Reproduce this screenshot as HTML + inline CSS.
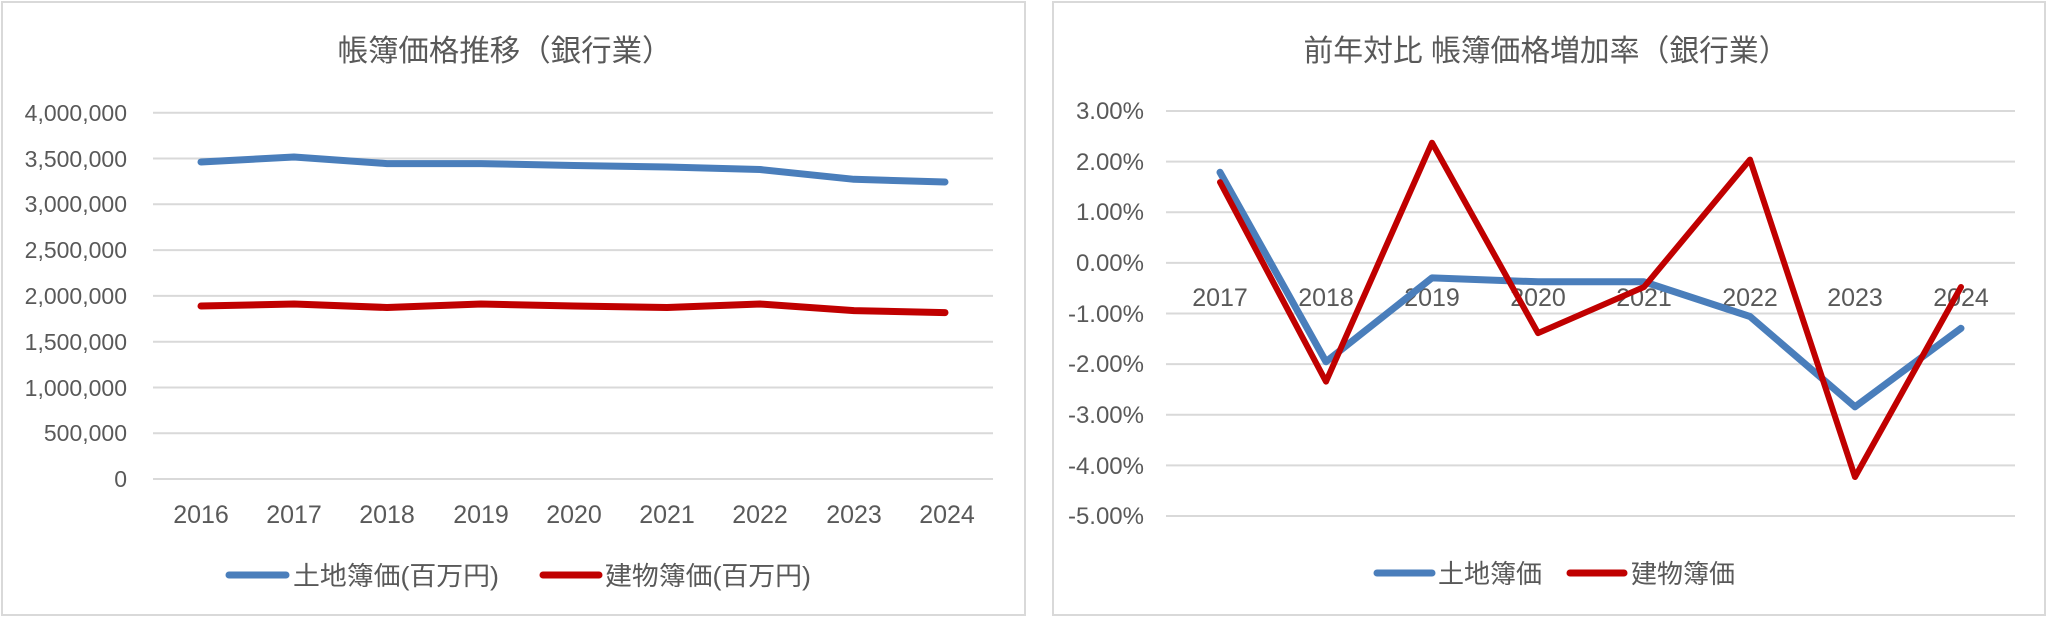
<!DOCTYPE html>
<html><head><meta charset="utf-8"><style>
html,body{margin:0;padding:0;background:#fff;width:2048px;height:618px;overflow:hidden}
svg{display:block}
text{font-family:"Liberation Sans","Noto Sans CJK JP",sans-serif;fill:#595959}
</style></head><body>
<svg width="2048" height="618" viewBox="0 0 2048 618" xmlns="http://www.w3.org/2000/svg">
<rect x="0" y="0" width="2048" height="618" fill="#fff"/>
<rect x="2" y="2" width="1023" height="613" fill="#fff" stroke="#d9d9d9" stroke-width="2"/>
<rect x="1053" y="2" width="992" height="613" fill="#fff" stroke="#d9d9d9" stroke-width="2"/>

<!-- Left chart -->
<text x="505" y="61" font-size="30" text-anchor="middle" textLength="335" lengthAdjust="spacingAndGlyphs">帳簿価格推移（銀行業）</text>
<g stroke="#d9d9d9" stroke-width="2">
<line x1="153" x2="993" y1="112.7" y2="112.7"/><line x1="153" x2="993" y1="158.5" y2="158.5"/>
<line x1="153" x2="993" y1="204.3" y2="204.3"/><line x1="153" x2="993" y1="250.1" y2="250.1"/>
<line x1="153" x2="993" y1="295.9" y2="295.9"/><line x1="153" x2="993" y1="341.7" y2="341.7"/>
<line x1="153" x2="993" y1="387.5" y2="387.5"/><line x1="153" x2="993" y1="433.3" y2="433.3"/>
<line x1="153" x2="993" y1="479" y2="479"/>
</g>
<g font-size="23" text-anchor="end">
<text x="127" y="121">4,000,000</text><text x="127" y="167">3,500,000</text>
<text x="127" y="212">3,000,000</text><text x="127" y="258">2,500,000</text>
<text x="127" y="304">2,000,000</text><text x="127" y="350">1,500,000</text>
<text x="127" y="396">1,000,000</text><text x="127" y="441">500,000</text>
<text x="127" y="487">0</text>
</g>
<g font-size="25" text-anchor="middle">
<text x="201" y="523">2016</text><text x="294" y="523">2017</text><text x="387" y="523">2018</text>
<text x="481" y="523">2019</text><text x="574" y="523">2020</text><text x="667" y="523">2021</text>
<text x="760" y="523">2022</text><text x="854" y="523">2023</text><text x="947" y="523">2024</text>
</g>
<polyline fill="none" stroke="#4a7ebb" stroke-width="7" stroke-linecap="round" stroke-linejoin="round"
points="201,162 294,157 387,163.6 481,163.6 574,165.5 667,167 760,169.5 854,179.3 945,182"/>
<polyline fill="none" stroke="#c00000" stroke-width="7" stroke-linecap="round" stroke-linejoin="round"
points="201,306 294,304 387,307.5 481,304 574,306 667,307.5 760,304 854,310.6 945,312.6"/>
<line x1="229" x2="286" y1="575" y2="575" stroke="#4a7ebb" stroke-width="7" stroke-linecap="round"/>
<text x="293" y="585" font-size="26" textLength="206" lengthAdjust="spacingAndGlyphs">土地簿価(百万円)</text>
<line x1="543" x2="599" y1="575" y2="575" stroke="#c00000" stroke-width="7" stroke-linecap="round"/>
<text x="605" y="585" font-size="26" textLength="206" lengthAdjust="spacingAndGlyphs">建物簿価(百万円)</text>

<!-- Right chart -->
<text x="1546" y="61" font-size="30" text-anchor="middle" textLength="485" lengthAdjust="spacingAndGlyphs">前年対比 帳簿価格増加率（銀行業）</text>
<g stroke="#d9d9d9" stroke-width="2">
<line x1="1166" x2="2015" y1="111" y2="111"/><line x1="1166" x2="2015" y1="161.6" y2="161.6"/>
<line x1="1166" x2="2015" y1="212.2" y2="212.2"/><line x1="1166" x2="2015" y1="262.9" y2="262.9"/>
<line x1="1166" x2="2015" y1="313.5" y2="313.5"/><line x1="1166" x2="2015" y1="364.1" y2="364.1"/>
<line x1="1166" x2="2015" y1="414.7" y2="414.7"/><line x1="1166" x2="2015" y1="465.4" y2="465.4"/>
<line x1="1166" x2="2015" y1="516" y2="516"/>
</g>
<g font-size="24" text-anchor="end">
<text x="1144" y="119">3.00%</text><text x="1144" y="170">2.00%</text>
<text x="1144" y="220">1.00%</text><text x="1144" y="271">0.00%</text>
<text x="1144" y="322">-1.00%</text><text x="1144" y="372">-2.00%</text>
<text x="1144" y="423">-3.00%</text><text x="1144" y="474">-4.00%</text>
<text x="1144" y="524">-5.00%</text>
</g>
<g font-size="25" text-anchor="middle">
<text x="1220" y="306">2017</text><text x="1326" y="306">2018</text><text x="1432" y="306">2019</text>
<text x="1538" y="306">2020</text><text x="1644" y="306">2021</text><text x="1750" y="306">2022</text>
<text x="1855" y="306">2023</text><text x="1961" y="306">2024</text>
</g>
<polyline fill="none" stroke="#4a7ebb" stroke-width="7" stroke-linecap="round" stroke-linejoin="round"
points="1220,172.3 1326,361.8 1432,277.9 1538,281.8 1644,281.8 1750,316.5 1855,406.8 1961,328.3"/>
<polyline fill="none" stroke="#c00000" stroke-width="6" stroke-linecap="round" stroke-linejoin="round"
points="1220,182.1 1326,381.6 1432,142.7 1538,333.1 1644,287 1750,159.6 1855,477 1961,287"/>
<line x1="1377" x2="1432" y1="573" y2="573" stroke="#4a7ebb" stroke-width="7" stroke-linecap="round"/>
<text x="1438" y="583" font-size="26" textLength="104" lengthAdjust="spacingAndGlyphs">土地簿価</text>
<line x1="1570" x2="1624" y1="573" y2="573" stroke="#c00000" stroke-width="7" stroke-linecap="round"/>
<text x="1631" y="583" font-size="26" textLength="104" lengthAdjust="spacingAndGlyphs">建物簿価</text>
</svg>
</body></html>
